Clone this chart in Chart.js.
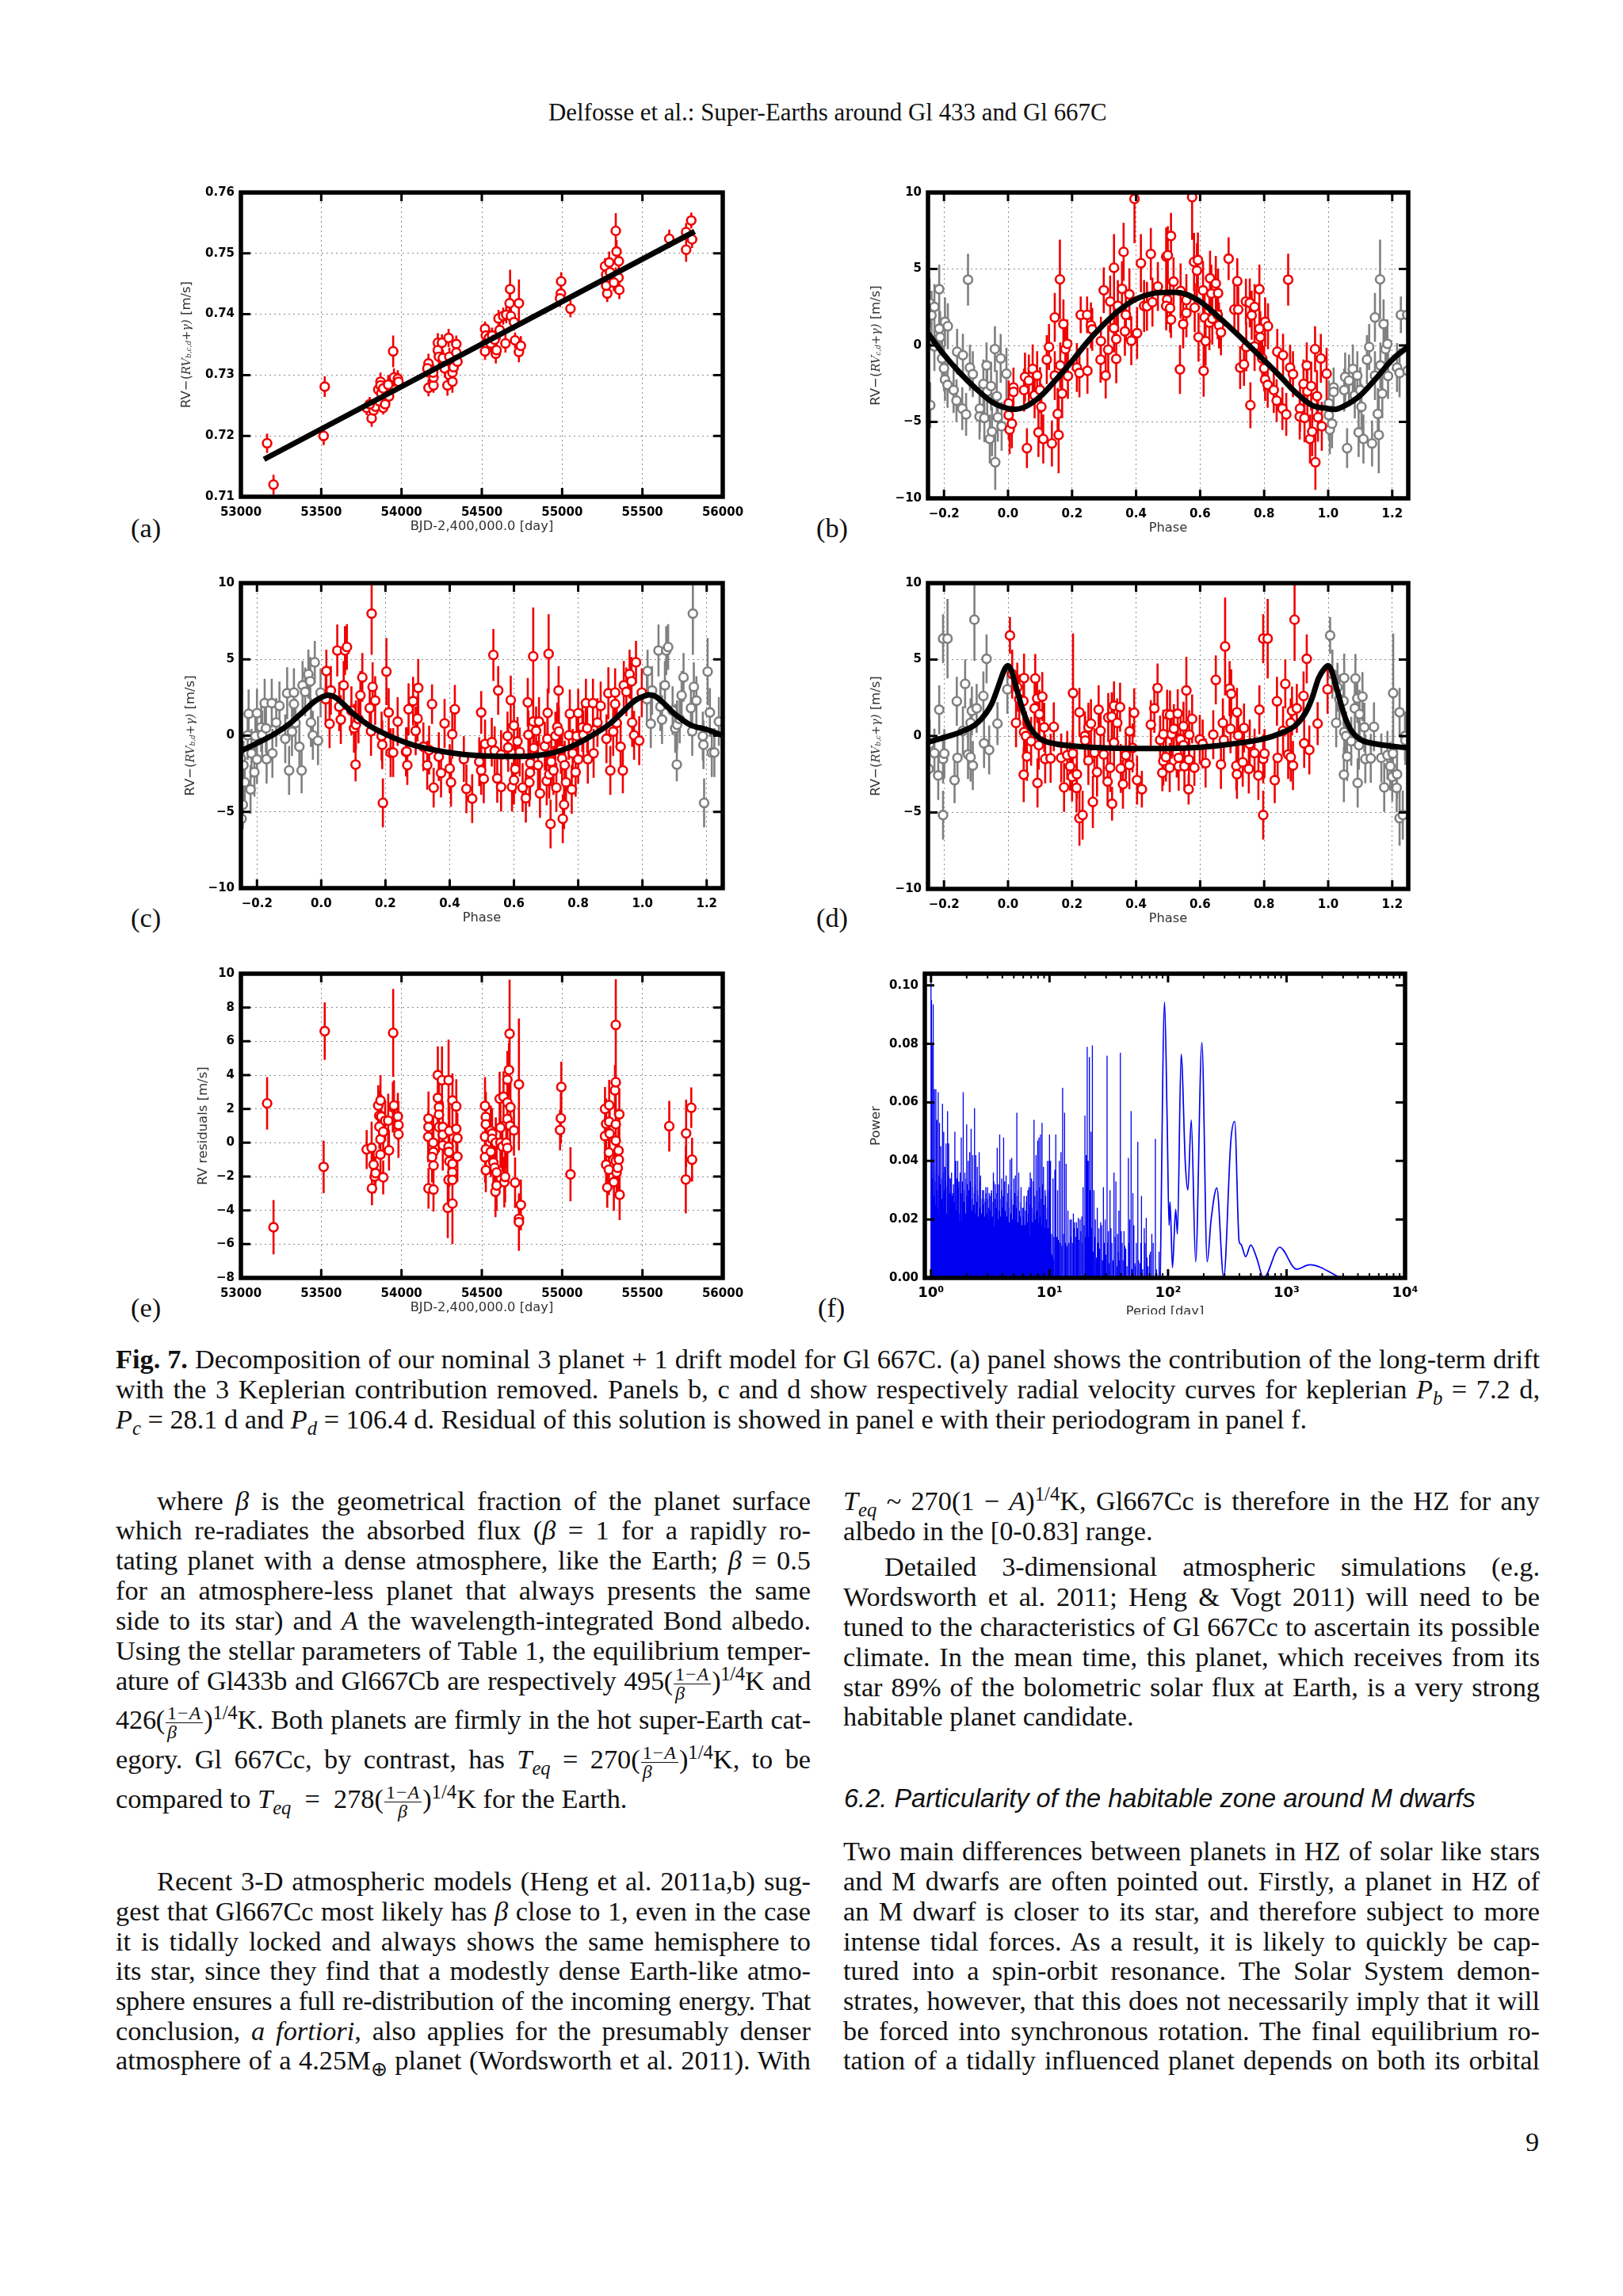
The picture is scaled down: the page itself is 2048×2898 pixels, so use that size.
<!DOCTYPE html>
<html>
<head>
<meta charset="utf-8">
<script src="https://cdn.jsdelivr.net/npm/chart.js@4"></script>
<style>
html, body { margin: 0; padding: 0; background: #fff; }
body { position: relative; width: 2048px; height: 2898px; overflow: hidden; font-family: "Liberation Serif", serif; color: #111; }
canvas { position: absolute; display: block; }
.t { position: absolute; font-size: 34.3px; line-height: 38px; height: 38px; white-space: nowrap; }
.j { text-align: justify; text-align-last: justify; white-space: normal; }
.t sub, .t sup { font-size: 0.72em; line-height: 0; }
.fr { display: inline-block; vertical-align: middle; font-size: 24px; line-height: 23px; text-align: center; margin: 0 1px; letter-spacing: 1px; text-indent: 0; }
.fr span { display: block; padding: 0 2px; }
.fr span:first-child { border-bottom: 1.5px solid #111; }
</style>
</head>
<body>
<canvas id="panelA"></canvas>
<canvas id="panelB"></canvas>
<canvas id="panelC"></canvas>
<canvas id="panelD"></canvas>
<canvas id="panelE"></canvas>
<canvas id="panelF"></canvas>
<div id="page"></div>
<script>
// Panel a: drift
const timeA = [53163,53203,53515,53522,53783,53814,53826,53838,53802,53855,
    53869,53869,53886,53874,53862,53898,53886,53922,53917,53948,
    53953,53977,53981,54168,54168,54161,54199,54199,54197,54226,
    54233,54226,54233,54252,54257,54269,54293,54298,54286,54298,
    54317,54317,54324,54341,54341,54348,54520,54525,54525,54520,
    54544,54556,54564,54580,54587,54592,54611,54604,54633,54647,
    54652,54673,54676,54681,54700,54707,54731,54731,54743,54994,
    54992,54987,55052,55267,55274,55281,55274,55293,55298,55334,
    55339,55334,55353,55351,55356,55322,55667,55772,55772,55804,55809];
const rvA = [.7188,.7120,.7200,.7281,.7246,.7229,.7242,.7248,.7252,.7276,
    .7289,.7283,.7246,.7270,.7257,.7252,.7278,.7265,.7284,.7339,
    .7296,.7294,.7289,.7279,.7319,.7311,.7283,.7296,.7304,.7353,
    .7337,.7341,.7330,.7353,.7328,.7311,.7361,.7330,.7283,.7300,
    .7289,.7304,.7313,.7351,.7337,.7322,.7376,.7365,.7352,.7339,
    .7361,.7352,.7365,.7358,.7335,.7341,.7374,.7393,.7397,.7352,
    .7399,.7418,.7441,.7397,.7387,.7357,.7418,.7338,.7348,.7454,
    .7434,.7426,.7409,.7479,.7465,.7434,.7447,.7485,.7469,.7537,
    .7503,.7460,.7487,.7460,.7440,.7452,.7524,.7535,.7506,.7554,.7523];
const errA = [.0016,.0016,.0015,.0017,.0012,.0014,.0011,.0012,.0012,.0012,
    .0015,.0015,.0011,.0013,.0013,.0012,.0013,.0012,.0016,.0026,
    .0015,.0014,.0014,.0014,.0016,.0015,.0012,.0014,.0014,.0016,
    .0016,.0014,.0014,.0014,.0014,.0015,.0015,.0015,.0017,.0019,
    .0018,.0016,.0014,.0014,.0014,.0014,.0012,.0014,.0014,.0014,
    .0015,.0014,.0013,.0015,.0016,.0014,.0016,.0014,.0014,.0015,
    .0014,.0030,.0032,.0014,.0014,.0013,.0039,.0017,.0016,.0015,
    .0014,.0014,.0014,.0013,.0014,.0014,.0015,.0018,.0016,.0029,
    .0019,.0017,.0016,.0016,.0015,.0014,.0015,.0015,.0020,.0013,.0014];
const driftTime = [53144, 55825];
const driftLine = [.71615, .7536];

// Panel b: phase folded on Pb
const phaseB = [.002,.002,.005,.012,.017,.017,.05,.053,.077,.065,
    .059,.083,.091,.1,.104,.095,.11,.121,.128,.137,
    .146,.146,.155,.158,.162,.163,.169,.173,.179,.185,
    .187,.215,.227,.223,.247,.248,.259,.263,.29,.289,
    .299,.305,.313,.319,.331,.331,.338,.338,.343,.356,
    .361,.365,.368,.379,.385,.395,.403,.415,.425,.434,
    .446,.451,.468,.494,.497,.494,.499,.509,.506,.509,
    .517,.537,.539,.547,.557,.557,.575,.581,.583,.59,
    .593,.595,.609,.611,.614,.617,.629,.631,.635,.638,
    .649,.656,.659,.665,.655,.689,.707,.719,.716,.725,
    .737,.744,.743,.755,.757,.761,.77,.77,.785,.785,
    .788,.794,.803,.812,.8,.803,.811,.83,.839,.841,
    .859,.857,.869,.875,.881,.89,.912,.911,.923,.926,
    .933,.935,.943,.947,.95,.959,.965,.96,.968,.977,
    .98,.995];
const rvB = [-3.79,-4.56,-5.51,-5.12,-2.75,-3.04,-2.92,-2.06,-1.54,-2.3,
    -6.72,-3.27,-1.97,-2.92,-4.01,-5.69,-6.12,-.93,-.1,-6.41,
    1.83,-1.97,-4.48,-5.86,4.32,-1.31,-3.15,1.4,-.24,.1,
    -2,-1.45,2,-1.8,2,-1.66,1.31,1.05,.28,-.93,
    3.61,-1.97,-.28,2.87,5.08,1.14,.41,-.88,2.58,3.7,
    6.12,.92,2,3.34,.31,9.58,.8,5.38,2.58,2.56,
    5.98,2.83,3.85,5.81,3,2.58,5.9,7.16,2.44,1.69,
    4.17,-1.57,3.56,1.4,2.96,2.13,9.7,5.46,2.47,4.89,
    5.58,.54,3.6,-1.66,1.83,.28,1.49,4.39,3.39,1.75,
    4.05,3.42,1.31,.85,2,5.67,2.35,2.35,4.2,-1.45,
    -1.24,-.1,2.87,2.78,-3.91,1.97,2.52,-.07,3.68,1.09,
    .54,-.85,1.54,1.26,-1.5,-2.23,-2.58,-2.92,-3.61,-.41,
    -.64,-4.13,-4.51,4.3,-1.45,-1.88,-4.13,-4.65,-2.52,-4.74,
    -1.31,-3.01,-6.12,-2.66,-5.64,-.24,-3.32,-7.64,-4.7,-.85,
    -5.29,-1.85];
const errB = [1.5,1.6,1.6,1.6,1.3,1.3,1.4,1.6,1.6,1.7,
    1.3,1.5,1.6,1.5,1.5,1.6,1.6,1.6,1.5,1.5,
    1.6,1.6,1.7,2.5,2.6,1.5,1.6,1.6,1.6,1.6,
    1.5,1.6,1.2,1.6,1.2,1.5,1.5,1.4,1.6,1.5,
    1.5,1.5,1.6,1.7,2.2,1.6,1.8,1.6,1.7,1.8,
    1.9,1.6,1.7,1.7,1.6,2.9,1.7,1.9,1.7,1.6,
    1.7,1.6,1.6,1.9,1.6,1.6,1.9,1.5,1.6,1.2,
    1.6,1.6,1.8,1.6,1.7,1.6,2.8,1.9,1.6,1.8,
    1.8,1.6,1.9,1.7,1.7,1.6,1.8,1.8,1.9,1.7,
    1.8,1.6,1.5,1.5,1.6,1.4,1.6,1.5,1.5,1.4,
    1.4,1.6,1.5,1.6,1.5,1.6,1.5,1.6,1.6,1.6,
    1.7,1.6,1.6,1.5,1.5,1.4,1.5,1.5,1.4,1.5,
    1.4,1.4,1.4,1.7,1.5,1.5,1.5,1.5,1.6,1.6,
    1.5,1.5,1.6,1.6,1.6,1.5,1.7,1.8,1.6,1.6,
    1.6,1.7];
const curvePhaseB = [-.25,-.2,-.15,-.1,-.05,0,.02,.05,.1,.15,.2,.25,.3,.35,.4,.45,.5,.52,.55,.6,.65,.7,.75,.8,.85,.9,.95,1,1.02,1.05,1.1,1.15,1.2,1.25];
const curveB = [.8,-.6,-1.8,-2.83,-3.7,-4.13,-4.18,-4.05,-3.35,-2.23,-1.02,.28,1.4,2.35,3.04,3.39,3.47,3.47,3.39,2.87,2,1.05,.05,-.98,-2.02,-3.1,-3.92,-4.13,-4.18,-3.96,-3.27,-2.14,-.93,-.07];

// Panel c: phase folded on Pc
const phaseC = [.016,.014,.03,.026,.05,.056,.061,.074,.08,.07,
    .094,.102,.108,.107,.116,.122,.128,.155,.151,.157,
    .16,.168,.188,.19,.192,.203,.21,.216,.224,.238,
    .264,.266,.268,.272,.286,.294,.3,.302,.318,.33,
    .336,.345,.35,.366,.373,.384,.4,.404,.408,.416,
    .444,.452,.47,.492,.498,.498,.506,.51,.531,.536,
    .54,.548,.551,.56,.56,.58,.582,.59,.594,.6,
    .6,.604,.611,.618,.627,.637,.643,.645,.648,.65,
    .651,.66,.662,.66,.669,.678,.675,.681,.696,.702,
    .704,.705,.708,.714,.71,.716,.723,.729,.732,.735,
    .739,.74,.746,.75,.752,.756,.758,.762,.771,.774,
    .78,.783,.792,.795,.8,.8,.813,.816,.824,.828,
    .83,.846,.848,.86,.87,.888,.894,.9,.909,.915,
    .915,.92,.932,.939,.942,.95,.96,.966,.968,.974,
    .98,.99,.998];
const rvC = [4.23,2.39,2.96,.78,5.58,1.9,1.05,5.58,5.81,3.3,
    1.64,.48,.71,-1.9,1.09,2.64,3.82,.28,1.81,8,
    3.2,2.3,-.03,-.6,-4.41,4.2,1.52,-1.12,-1.11,.92,
    -1.07,-1.04,-1.94,1.73,2.26,.31,1.12,3.13,-.73,-1.94,
    -.95,2.07,-3.41,-1.38,-2.45,.8,-2.16,-3.06,.09,1.73,
    -1.54,-3.49,-4.13,-1.71,1.52,-2.28,-2.83,-.55,-.43,5.29,
    -.99,-2.8,2.96,-1.24,-3.37,-.03,-.78,2.33,-3.37,.66,
    -2.92,-2.2,-.38,-1.07,-3.41,-4.1,2.18,.05,-3.06,-2.42,
    -1.8,5.2,-.81,.92,.31,.92,-1.94,-3.79,-.69,-2.97,
    -.21,1.49,5.36,-5.79,-2.54,-1.71,-2.28,-.03,-3.41,.57,
    2.96,.28,-.9,-1.5,-5.45,-4.53,-1.94,-3.06,.02,1.43,
    -3.53,-1.16,-2.4,-.03,1.47,-1.56,.54,.05,2.13,.48,
    -1.54,2.13,-1.16,.86,1.95,-.21,2.78,-2.28,.26,2.82,
    2.07,.83,-.73,-2.28,3.3,2.87,4.03,3.56,.86,.02,
    4.81,-.33,2.82];
const errC = [1.4,1.5,1.6,1.6,1.7,1.6,1.6,1.6,1.5,1.6,
    1.6,1.6,1.6,1.1,1.6,1.6,1.6,1.6,1.6,2.7,
    1.6,1.6,1.6,1.6,1.6,2.2,1.6,1.6,1.6,1.6,
    1.6,1.6,1.3,1.7,1.6,1.6,1.5,1.9,1.6,1.6,
    1.6,1.3,1.3,1.6,1.6,1.6,1.6,1.6,1.6,1.6,
    1.5,1.6,1.6,1.6,1.4,1.6,1.6,1.6,1.6,1.7,
    1.6,1.6,1.6,1.6,1.6,1.6,1.6,1.6,1.6,1.6,
    1.6,1.6,1.6,1.6,1.6,1.6,1.6,1.6,1.6,1.6,
    1.6,3.2,1.6,1.6,1.6,1.6,1.6,1.6,1.6,1.6,
    1.6,1.6,2.6,1.6,1.6,1.6,1.6,1.6,1.6,1.6,
    1.6,1.6,1.6,1.6,1.6,1.6,1.6,1.6,1.6,1.6,
    1.6,1.6,1.6,1.6,1.6,1.6,1.6,1.6,1.6,1.6,
    1.6,1.6,1.6,1.6,1.6,1.6,1.7,1.6,1.6,1.6,
    1.6,1.6,1.6,1.5,1.6,1.6,1.6,1.6,1.6,1.6,
    1.4,1.6,1.6];
const curvePhaseC = [-.25,-.2,-.15,-.1,-.05,-.02,0,.02,.04,.07,.1,.15,.2,.25,.3,.4,.5,.6,.7,.75,.8,.85,.9,.95,.98,1,1.02,1.04,1.07,1.1,1.15,1.2,1.25];
const curveC = [-1,-.5,.05,.75,1.7,2.25,2.5,2.65,2.55,2.05,1.43,.65,.1,-.35,-.7,-1.12,-1.33,-1.37,-1.22,-.95,-.5,.1,.8,1.8,2.35,2.55,2.68,2.58,2.05,1.43,.7,.4,0];

// Panel d: phase folded on Pd
const phaseD = [.006,.013,.029,.035,.025,.05,.048,.05,.049,.056,
    .059,.072,.083,.085,.091,.092,.096,.098,.107,.113,
    .116,.133,.143,.166,.175,.185,.194,.202,.203,.2,
    .215,.214,.223,.223,.233,.24,.241,.251,.251,.259,
    .265,.27,.278,.283,.289,.299,.311,.313,.319,.324,
    .325,.331,.331,.341,.35,.352,.359,.368,.379,.38,
    .389,.394,.403,.418,.446,.457,.467,.475,.485,.482,
    .485,.493,.497,.505,.506,.511,.518,.527,.53,.533,
    .539,.533,.548,.551,.557,.548,.564,.566,.565,.575,
    .582,.599,.608,.617,.641,.649,.665,.671,.674,.678,
    .692,.697,.695,.715,.713,.715,.719,.733,.737,.752,
    .755,.77,.782,.785,.797,.797,.797,.801,.811,.833,
    .84,.842,.859,.866,.875,.883,.883,.887,.89,.902,
    .895,.923,.925,.933,.941,.967,.998];
const rvD = [6.58,4.05,3.19,2.41,.86,3.79,2.29,.26,-2.53,0,
    -1.34,-.34,1.81,3.76,2.46,-3.07,-.6,1.43,2.58,.57,
    -1.5,-1.46,.6,-1.43,-3.36,-1.26,-1.98,-1.15,2.81,-2.67,
    -2.5,-3.39,1.55,-5.37,-5.17,0,-.29,.57,-1.6,.81,
    -4.31,-1.09,-2.36,1.72,.34,-1.21,-2.98,1.21,-2.07,1.26,
    -4.43,-.43,1.98,.86,1.89,-2.12,-3.15,-1.26,-1.89,.31,
    -.78,1.52,-2.88,-3.48,.74,1.81,3.14,-.26,.12,-2.41,
    -1.64,-1.38,1.43,-2.07,1.38,.12,.48,-1.12,1.46,-1.43,
    -.22,-1.98,.64,-1.98,2.98,-.6,-3.48,.09,-1.55,1.12,
    -2.07,-.22,-.52,-1.77,.09,3.67,-1.86,.86,-.26,5.86,
    3.1,2.76,.47,1.55,-1.95,-2.5,.03,-1.72,.52,-2.15,
    -.52,-1.12,-2.58,1.72,6.37,-1.5,-5.17,-1.15,6.37,-2.89,
    2.27,-1.43,.34,3.41,-1.21,-1.38,.86,1.64,-1.93,1.81,
    7.61,2.62,-.48,5.05,-.91,.81,3.05];
const errD = [1.2,1.6,1.6,1.6,1.6,1.6,1.6,1.6,1.8,1.6,
    1.6,1.6,1.6,1.6,1.6,1.6,1.6,1.6,1.6,1.6,
    1.6,1.6,1.6,1.6,1.6,1.6,1.6,1.6,3.9,1.6,
    1.6,1.6,1.6,1.8,1.6,1.6,1.6,1.6,1.6,1.6,
    1.7,1.6,1.6,1.6,1.6,1.6,1.6,1.6,1.6,1.6,
    1.1,1.6,1.6,1.6,1.6,1.6,1.6,1.6,1.6,1.6,
    1.6,1.6,1.6,1.2,1.6,1.6,1.6,1.6,1.6,1.2,
    1.6,1.6,1.6,1.6,1.6,1.6,1.6,1.6,1.6,1.6,
    1.6,1.6,1.6,1.6,2.2,1.6,1.0,1.6,1.6,1.6,
    1.2,1.6,1.6,1.6,1.6,1.6,1.6,1.6,1.6,3.2,
    1.8,1.6,1.6,1.6,1.6,1.6,1.6,1.6,1.6,1.6,
    1.6,1.6,1.6,1.6,1.6,1.6,1.6,1.6,2.6,1.5,
    1.6,1.6,1.6,1.6,1.6,1.6,1.6,1.6,1.6,1.6,
    2.7,1.6,1.6,1.6,1.6,1.4,1.6];
const curvePhaseD = [-.25,-.2,-.15,-.1,-.07,-.05,-.03,-.01,0,.01,.03,.05,.07,.1,.15,.2,.3,.4,.5,.6,.7,.8,.85,.9,.93,.95,.97,.99,1,1.01,1.03,1.05,1.07,1.1,1.15,1.25];
const curveD = [-.4,-.1,.25,.78,1.46,2.15,3.27,4.39,4.6,4.3,2.84,1.46,.52,-.17,-.52,-.65,-.78,-.81,-.81,-.74,-.52,-.17,.17,.74,1.55,2.5,3.79,4.45,4.6,4.3,2.84,1.38,.43,-.22,-.52,-.78];

// Panel e: residuals
const timeE = [53163,53203,53515,53522,53783,53814,53816,53826,53833,53838,
    53855,53869,53862,53874,53862,53869,53869,53886,53886,53898,
    53917,53922,53948,53946,53953,53977,53981,53981,54168,54168,
    54166,54168,54199,54199,54199,54197,54190,54226,54226,54233,
    54233,54233,54252,54257,54257,54257,54293,54298,54293,54295,
    54298,54293,54288,54317,54317,54317,54317,54317,54341,54341,
    54348,54348,54520,54525,54525,54520,54525,54520,54525,54556,
    54564,54564,54556,54572,54580,54592,54587,54585,54592,54611,
    54616,54616,54628,54635,54640,54645,54659,54659,54659,54652,
    54659,54669,54673,54678,54676,54700,54707,54731,54731,54731,
    54743,54995,54992,54987,55052,55267,55274,55267,55274,55281,
    55293,55293,55296,55291,55291,55322,55329,55334,55334,55334,
    55334,55334,55339,55346,55351,55353,55356,55358,55667,55772,
    55770,55804,55809];
const resE = [2.33,-5,-1.43,6.6,-.4,-.3,-2.7,-1.3,-2,-1.8,
    2.2,2.5,1.6,1.55,.95,.2,-.7,.65,-2.05,1.3,
    1.3,-.45,6.5,2.1,2.2,1.55,1.05,.5,1.43,.93,
    .35,-2.7,-2.77,-1.35,-.55,0,-.85,4,2.65,2.1,
    1.66,.93,3.7,.93,.47,-.15,3.7,.7,-.23,-.55,
    -1.1,-2.2,-3.85,2.5,-1.25,-1.75,-2.2,-3.6,2.15,.82,
    .27,-.82,2.18,1.52,1.09,.36,-.39,-.86,-1.63,.7,
    .54,.23,-.54,-1.17,-1.48,-1.76,0,-2.9,-2.53,2.6,
    .89,0,-.23,2.72,-2.33,-2.02,3.73,2.38,1.4,0,
    -.31,4.3,6.45,2.1,1,.73,-2.36,3.45,-4.5,-4.7,
    -3.68,3.3,1.45,.75,-1.87,2,1.12,.39,-1.3,-2.65,
    2.22,1.24,.54,-.58,-1.6,-2.33,3.1,3.58,6.97,1.09,
    .12,-1.09,-1.76,-1.48,-.47,-1,1.68,-3.08,.98,.55,
    -2.18,2.07,-1];
const errE = [1.55,1.6,1.55,1.7,1.15,1.55,1,1,1,1,
    1.2,1.5,1.5,1.3,1.3,1.3,1.3,1.2,1,1.2,
    1.6,1.2,2.6,1.5,1.5,1.4,1.4,1.4,1.6,1.6,
    1.5,1.2,1.3,1.5,1.5,1.6,1.5,1.7,1.5,1.5,
    1.5,1.5,2,1.5,1.5,1.5,2.4,1.5,1.5,1.5,
    1.5,1.5,1.8,1.6,1.5,1.5,1.5,2.4,1.6,1.5,
    1.5,1.5,1.7,1.5,1.5,1.5,1.5,1.5,1.3,1.5,
    1.5,1.5,1.5,1.5,1.5,1.5,1.5,1.5,1.5,1.6,
    1.5,1.5,1.5,1.5,1.5,1.5,1.7,1.5,1.5,1.5,
    1.5,1.6,3.2,1.5,1.5,1.5,1.5,3.9,1.5,1.7,
    1.5,1.5,1.5,1.2,1.6,1.3,1.5,1.5,1.5,1.2,
    1.5,1.5,1.5,1.5,1.5,1.7,1.5,1.7,2.7,1.5,
    1.5,1.5,1.5,1.5,1.5,1.5,1.5,1.5,1.5,2,
    2,1.2,1.3];

// Panel f: periodogram, tall peaks below 90 days
const stickPeriods = [1,1.01,1.02,1.035,1.05,1.07,1.1,1.12,1.15,1.18,
    1.21,1.25,1.28,1.31,1.34,1.38,1.41,1.45,1.49,1.53,
    1.59,1.62,1.68,1.72,1.8,1.87,1.93,2,2.06,2.12,
    2.18,2.25,2.33,2.39,2.46,2.55,2.62,2.72,2.8,2.9,
    3,3.1,3.22,3.36,3.5,3.62,3.8,3.95,4.1,4.3,
    4.5,4.65,4.8,5,5.15,5.3,5.5,5.75,6,6.2,
    6.4,6.7,6.88,7.05,7.4,7.7,7.95,8.15,8.4,8.65,
    8.9,9.2,9.6,9.9,10,10.2,10.7,11.1,11.3,11.7,
    12.1,12.5,12.9,13.4,13.8,14.3,14.9,15.3,15.9,16.3,
    16.9,17.5,18.1,18.7,19.2,19.9,20.4,20.8,21.2,21.7,
    22.1,22.4,23,23.7,24.4,25.3,26.1,27,28.5,29.5,
    30.6,31.4,32.4,33.6,35,36.3,37.5,38.5,39.6,41,
    42.5,44,46.3,47.5,48.8,50.5,52.5,54,55.6,58,
    59.7,63,65.5,68,70,73,78.2,84];
const stickPower = [.104,.095,.08,.0935,.067,.0645,.0645,.054,.0635,.053,
    .045,.0595,.05,.038,.046,.057,.046,.034,.036,.029,
    .05,.04,.04,.033,.048,.0635,.036,.0525,.04,.043,
    .051,.042,.058,.042,.038,.043,.035,.03,.027,.031,
    .027,.029,.029,.036,.032,.0445,.049,.034,.048,.035,
    .032,.0405,.041,.034,.035,.0565,.036,.031,.024,.018,
    .028,.031,.036,.034,.054,.042,.047,.048,.049,.053,
    .038,.03,.04,.04,.049,.04,.034,.037,.049,.03,
    .04,.043,.065,.0565,.039,.023,.02,.02,.022,.019,
    .019,.0205,.02,.021,.031,.0555,.042,.079,.04,.0755,
    .03,.05,.0795,.03,.02,.024,.017,.019,.031,.02,
    .076,.016,.03,.012,.036,.033,.015,.023,.077,.012,
    .016,.01,.041,.02,.057,.029,.005,.012,.0465,.005,
    .028,.017,.0205,.004,.008,.015,.0475,.009];
// lower peaks of the forest, estimated by eye where they merge
const forestPeriods = [1.005,1.02,1.03,1.045,1.06,1.08,1.09,1.11,1.13,1.14,
    1.16,1.17,1.19,1.2,1.22,1.24,1.26,1.27,1.29,1.31,
    1.33,1.35,1.37,1.39,1.41,1.43,1.45,1.47,1.49,1.51,
    1.53,1.55,1.57,1.6,1.62,1.65,1.67,1.7,1.72,1.75,
    1.77,1.8,1.83,1.85,1.88,1.91,1.94,1.97,2,2.03,
    2.06,2.09,2.12,2.15,2.19,2.22,2.25,2.29,2.32,2.36,
    2.39,2.43,2.47,2.5,2.54,2.58,2.62,2.66,2.7,2.74,
    2.78,2.82,2.87,2.91,2.95,3,3.05,3.09,3.14,3.19,
    3.24,3.29,3.34,3.39,3.44,3.49,3.54,3.6,3.65,3.71,
    3.76,3.82,3.88,3.94,4,4.06,4.12,4.18,4.25,4.31,
    4.38,4.44,4.51,4.58,4.65,4.72,4.79,4.86,4.94,5.01,
    5.09,5.17,5.25,5.33,5.41,5.49,5.57,5.66,5.74,5.83,
    5.92,6.01,6.1,6.19,6.28,6.38,6.48,6.57,6.67,6.77,
    6.88,6.98,7.08,7.19,7.3,7.41,7.52,7.64,7.75,7.87,
    7.99,8.11,8.23,8.35,8.48,8.61,8.74,8.87,9,9.14,
    9.28,9.42,9.56,9.7,9.85,10,
    10.4,10.9,11.5,11.9,12.3,12.7,13.1,13.6,14,14.6,
    15.1,15.6,16.1,16.6,17.2,17.8,18.4,19,19.6,20.1,
    20.6,21,21.4,21.9,22.7,23.3,24,24.8,25.7,26.5,
    27.5,28,29,30,31,32,33,34.3,35.8,37,
    38,39,40.3,41.7,43.2,45,47,49.7,51.5,53.2,
    56.5,59,61,64,66.5,71,75,80];
const forestPower = [.03,.034,.022,.036,.028,.033,.025,.037,.03,.024,
    .035,.028,.032,.022,.034,.027,.036,.024,.03,.026,
    .033,.022,.031,.027,.035,.023,.029,.034,.025,.028,
    .021,.032,.026,.03,.023,.034,.027,.031,.022,.036,
    .025,.029,.033,.023,.03,.026,.034,.022,.028,.032,
    .024,.03,.021,.033,.027,.023,.031,.025,.029,.022,
    .032,.026,.03,.021,.028,.024,.033,.022,.027,.025,
    .03,.021,.026,.029,.022,.031,.024,.02,.028,.023,
    .03,.021,.026,.033,.022,.027,.024,.029,.02,.032,
    .023,.027,.021,.03,.024,.028,.02,.033,.023,.026,
    .021,.029,.024,.019,.03,.022,.027,.02,.025,.023,
    .029,.02,.024,.028,.019,.03,.023,.021,.026,.018,
    .024,.021,.028,.018,.023,.026,.019,.03,.022,.025,
    .02,.031,.024,.019,.033,.022,.028,.02,.03,.023,
    .026,.019,.031,.021,.027,.018,.032,.022,.025,.017,
    .028,.02,.024,.017,.03,.02,
    .015,.014,.014,.013,.012,.011,.015,.012,.011,.012,
    .014,.012,.017,.014,.017,.013,.016,.012,.018,.014,
    .018,.016,.014,.012,.017,.009,.014,.007,.012,.01,
    .018,.006,.012,.008,.012,.005,.017,.006,.014,.004,
    .009,.006,.016,.006,.011,.004,.012,.003,.018,.004,
    .006,.012,.003,.012,.007,.009,.012,.003];
// solid part of the forest at short periods
const densePeriods = [1,1.15,1.4,1.8,2.3,3,4,5,6.5,8,10,11];
const densePower = [.02,.02,.02,.019,.019,.018,.017,.016,.015,.013,.01,.005];
// resolved peaks at long periods
const longPeriods = [86,93.5,98.5,102,104,109,116,120,129,140,147,157,171,193,214,231,258,295,339,365,398,412,452,499,560,640,875,1210,1567,2890];
const longPower = [0,.0943,.0518,.018,.026,.0035,.0235,.015,.0765,.039,.03,.054,.0055,.0805,.0055,.02,.0308,0,.047,.0535,.0125,.0115,.0073,.0113,.0068,0,.0105,.003,.0045,0];

const phaseTicks = [-.2,0,.2,.4,.6,.8,1,1.2];
const timeTicks = [53000,53500,54000,54500,55000,55500,56000];
const rvTicks = [-10,-5,0,5,10];
const driftTicks = [.71,.72,.73,.74,.75,.76];
const residualTicks = [-8,-6,-4,-2,0,2,4,6,8,10];
const powerTicks = [0,.02,.04,.06,.08,.1];
const periodTicks = [1,10,100,1000,10000];
const periodMinorTicks = [1,10,100,1000].flatMap(d => [2,3,4,5,6,7,8,9].map(m => m * d));

const RED = '#f00000';
const GREY = '#808080';
const BLUE = '#0000f0';
const tickFont = { family: '"DejaVu Sans"', size: 15, weight: 'bold' };
const minusText = v => String(v).replace('-', '\u2212');

// vertical bars as one line with gaps, so the scales place them
function errorBarPoints(xs, ys, es) {
    return xs.flatMap((x, i) => [
        { x: x, y: ys[i] - es[i] },
        { x: x, y: ys[i] + es[i] },
        { x: x, y: null }
    ]);
}

function markerDataset(xs, ys, color) {
    return {
        data: xs.map((x, i) => ({ x: x, y: ys[i] })),
        showLine: false,
        pointStyle: 'circle',
        pointRadius: 5.4,
        pointBorderWidth: 2.6,
        pointBorderColor: color,
        pointBackgroundColor: '#fff'
    };
}

function barDataset(xs, ys, es, color) {
    return {
        data: errorBarPoints(xs, ys, es),
        showLine: true,
        spanGaps: false,
        borderColor: color,
        borderWidth: 2.6,
        pointRadius: 0
    };
}

function curveDataset(xs, ys, width) {
    return {
        data: xs.map((x, i) => ({ x: x, y: ys[i] })),
        showLine: true,
        borderColor: '#000',
        borderWidth: width,
        cubicInterpolationMode: 'monotone',
        pointRadius: 0,
        borderCapStyle: 'butt'
    };
}

function stickDataset(periods, power) {
    return {
        data: periods.flatMap((p, i) => [{ x: p, y: 0 }, { x: p, y: power[i] }, { x: p, y: 0 }]),
        showLine: true, borderColor: BLUE, borderWidth: 1.3, pointRadius: 0
    };
}

// the phase plots repeat the last and first quarter of the orbit in grey
function foldedDatasets(curveX, curveY, ph, rv, er) {
    const leftIdx = ph.map((p, i) => i).filter(i => ph[i] >= .75);
    const rightIdx = ph.map((p, i) => i).filter(i => ph[i] <= .25);
    const idx = leftIdx.concat(rightIdx);
    const greyX = leftIdx.map(i => ph[i] - 1).concat(rightIdx.map(i => ph[i] + 1));
    const greyY = idx.map(i => rv[i]);
    const greyE = idx.map(i => er[i]);
    return [
        curveDataset(curveX, curveY, 7),
        markerDataset(ph, rv, RED),
        barDataset(ph, rv, er, RED),
        markerDataset(greyX, greyY, GREY),
        barDataset(greyX, greyY, greyE, GREY)
    ];
}

// matplotlib look: heavy frame with inward ticks on all four sides
const frameTicksPlugin = {
    id: 'frameTicks',
    afterDraw(chart, args, opts) {
        const { ctx, chartArea: a, scales } = chart;
        ctx.save();
        ctx.strokeStyle = '#000';
        ctx.lineWidth = 3;
        ctx.beginPath();
        scales.x.ticks.forEach(t => {
            const px = scales.x.getPixelForValue(t.value);
            ctx.moveTo(px, a.top); ctx.lineTo(px, a.top + 11);
            ctx.moveTo(px, a.bottom); ctx.lineTo(px, a.bottom - 11);
        });
        scales.y.ticks.forEach(t => {
            const py = scales.y.getPixelForValue(t.value);
            ctx.moveTo(a.left, py); ctx.lineTo(a.left + 12, py);
            ctx.moveTo(a.right, py); ctx.lineTo(a.right - 12, py);
        });
        ctx.stroke();
        if (opts.minorX) {
            ctx.lineWidth = 2;
            ctx.beginPath();
            opts.minorX.forEach(v => {
                const px = scales.x.getPixelForValue(v);
                ctx.moveTo(px, a.top); ctx.lineTo(px, a.top + 6);
                ctx.moveTo(px, a.bottom); ctx.lineTo(px, a.bottom - 6);
            });
            ctx.stroke();
        }
        ctx.lineWidth = 5.5;
        ctx.strokeRect(a.left, a.top, a.right - a.left, a.bottom - a.top);
        ctx.restore();
    }
};

// y label with math runs, canvas text has no subscripts of its own
const yLabelPlugin = {
    id: 'yLabel',
    afterDraw(chart, args, opts) {
        const { ctx, chartArea: a } = chart;
        const runs = opts.runs || [];
        ctx.save();
        ctx.fillStyle = '#333';
        ctx.textBaseline = 'middle';
        ctx.translate(a.left - opts.offset, (a.top + a.bottom) / 2);
        ctx.rotate(-Math.PI / 2);
        let total = 0;
        runs.forEach(r => { ctx.font = r.font; total += ctx.measureText(r.text).width; });
        let x = -total / 2;
        runs.forEach(r => {
            ctx.font = r.font;
            ctx.fillText(r.text, x, r.dy || 0);
            x += ctx.measureText(r.text).width;
        });
        ctx.restore();
    }
};

const SANS = '16.5px "DejaVu Sans"';
const MATH = 'italic 14.5px "DejaVu Serif"';
const SUB = 'italic 9px "DejaVu Serif"';
function rvLabelRuns(sub) {
    return [
        { text: 'RV\u2212(', font: SANS },
        { text: 'RV', font: MATH },
        { text: sub, font: SUB, dy: 3 },
        { text: '+\u03b3)', font: MATH },
        { text: ' [m/s]', font: SANS }
    ];
}

const LEFT_PAD = 82, RIGHT_PAD = 42, TOP_PAD = 16, AXIS_H = 46;

function buildPanel(id, box, datasets, cfg) {
    const canvas = document.getElementById(id);
    const w = box.right - box.left + LEFT_PAD + RIGHT_PAD;
    const h = box.bottom - box.top + TOP_PAD + AXIS_H;
    canvas.width = w;
    canvas.height = h;
    canvas.style.left = (box.left - LEFT_PAD) + 'px';
    canvas.style.top = (box.top - TOP_PAD) + 'px';
    canvas.style.width = w + 'px';
    canvas.style.height = h + 'px';
    const grid = { display: cfg.grid !== false, color: '#8c8c8c', lineWidth: 1, drawTicks: false };
    return new Chart(canvas, {
        type: 'scatter',
        data: { datasets: datasets },
        plugins: [frameTicksPlugin, yLabelPlugin],
        options: {
            responsive: false,
            animation: false,
            devicePixelRatio: 1,
            layout: { padding: { top: TOP_PAD, right: RIGHT_PAD, left: 0, bottom: 0 } },
            plugins: {
                legend: { display: false },
                tooltip: { enabled: false },
                frameTicks: { minorX: cfg.minorX },
                yLabel: { runs: cfg.yRuns, offset: cfg.yOffset }
            },
            scales: {
                x: {
                    type: cfg.xType || 'linear',
                    min: cfg.xMin,
                    max: cfg.xMax,
                    grid: grid,
                    border: { display: false, dash: [2, 4] },
                    afterBuildTicks: s => { s.ticks = cfg.xTicks.map(v => ({ value: v })); },
                    afterFit: s => { s.height = AXIS_H; },
                    ticks: {
                        padding: cfg.xTickPad || 11,
                        autoSkip: false,
                        maxRotation: 0,
                        color: '#000',
                        font: cfg.xTickFont || tickFont,
                        callback: cfg.xFormat
                    },
                    title: {
                        display: true,
                        text: cfg.xTitle,
                        color: '#333',
                        font: { family: '"DejaVu Sans"', size: 16.3 },
                        padding: cfg.xTitlePad || { top: 0, bottom: -2 }
                    }
                },
                y: {
                    min: cfg.yMin,
                    max: cfg.yMax,
                    grid: grid,
                    border: { display: false, dash: [2, 4] },
                    afterBuildTicks: s => { s.ticks = cfg.yTicks.map(v => ({ value: v })); },
                    afterFit: s => { s.width = LEFT_PAD; },
                    ticks: {
                        padding: 8,
                        autoSkip: false,
                        color: '#000',
                        font: tickFont,
                        callback: cfg.yFormat
                    }
                }
            }
        }
    });
}

const fixed1 = v => minusText(v.toFixed(1));
const fixed2 = v => v.toFixed(2);
const plain = v => minusText(v);
const powerOfTen = v => '10' + '\u2070\u00b9\u00b2\u00b3\u2074'[Math.round(Math.log10(v))];

buildPanel('panelA', { left: 304, right: 912, top: 242, bottom: 627 }, [
    curveDataset(driftTime, driftLine, 7),
    markerDataset(timeA, rvA, RED),
    barDataset(timeA, rvA, errA, RED)
], {
    xMin: 53000, xMax: 56000, xTicks: timeTicks, xFormat: plain, xTitle: 'BJD-2,400,000.0 [day]',
    yMin: .71, yMax: .76, yTicks: driftTicks, yFormat: fixed2,
    yRuns: rvLabelRuns('b,c,d'), yOffset: 68
});

buildPanel('panelB', { left: 1171, right: 1777, top: 242, bottom: 629 },
    foldedDatasets(curvePhaseB, curveB, phaseB, rvB, errB), {
    xMin: -.25, xMax: 1.25, xTicks: phaseTicks, xFormat: fixed1, xTitle: 'Phase',
    yMin: -10, yMax: 10, yTicks: rvTicks, yFormat: plain,
    yRuns: rvLabelRuns('c,d'), yOffset: 65
});

buildPanel('panelC', { left: 304, right: 912, top: 735, bottom: 1121 },
    foldedDatasets(curvePhaseC, curveC, phaseC, rvC, errC), {
    xMin: -.25, xMax: 1.25, xTicks: phaseTicks, xFormat: fixed1, xTitle: 'Phase',
    yMin: -10, yMax: 10, yTicks: rvTicks, yFormat: plain,
    yRuns: rvLabelRuns('b,d'), yOffset: 63
});

buildPanel('panelD', { left: 1171, right: 1777, top: 735, bottom: 1122 },
    foldedDatasets(curvePhaseD, curveD, phaseD, rvD, errD), {
    xMin: -.25, xMax: 1.25, xTicks: phaseTicks, xFormat: fixed1, xTitle: 'Phase',
    yMin: -10, yMax: 10, yTicks: rvTicks, yFormat: plain,
    yRuns: rvLabelRuns('b,c'), yOffset: 65
});

buildPanel('panelE', { left: 304, right: 912, top: 1228, bottom: 1613 }, [
    markerDataset(timeE, resE, RED),
    barDataset(timeE, resE, errE, RED)
], {
    xMin: 53000, xMax: 56000, xTicks: timeTicks, xFormat: plain, xTitle: 'BJD-2,400,000.0 [day]',
    yMin: -8, yMax: 10, yTicks: residualTicks, yFormat: plain,
    yRuns: [{ text: 'RV residuals [m/s]', font: SANS }], yOffset: 47
});

buildPanel('panelF', { left: 1167, right: 1773, top: 1228, bottom: 1613 }, [
    stickDataset(stickPeriods, stickPower),
    stickDataset(forestPeriods, forestPower),
    {
        data: longPeriods.map((p, i) => ({ x: p, y: longPower[i] })),
        showLine: true, borderColor: BLUE, borderWidth: 1.7, pointRadius: 0, cubicInterpolationMode: 'monotone'
    },
    {
        data: densePeriods.map((p, i) => ({ x: p, y: densePower[i] })),
        showLine: true, borderColor: BLUE, backgroundColor: BLUE, borderWidth: 1, fill: 'origin', pointRadius: 0
    }
], {
    xType: 'logarithmic', xMin: .887, xMax: 10000, xTicks: periodTicks, xFormat: powerOfTen, xTitle: 'Period [day]',
    xTickFont: { family: '"DejaVu Sans"', size: 18, weight: 'bold' }, xTickPad: 9,
    xTitlePad: { top: 0, bottom: -7 },
    yMin: 0, yMax: .104, yTicks: powerTicks, yFormat: fixed2,
    yRuns: [{ text: 'Power', font: SANS }], yOffset: 61,
    grid: false, minorX: periodMinorTicks
});

// Page text around the figure
const frac = '<span class="fr"><span>1\u2212<i>A</i></span><span><i>\u03b2</i></span></span>';
const teq = '<i>T<sub>eq</sub></i>';
const quarter = '<sup>1/4</sup>';
const beta = '<i>\u03b2</i>';
const INDENT = 'text-indent:52px;';

const captionLines = [
    [1715, '<b>Fig. 7.</b> Decomposition of our nominal 3 planet + 1 drift model for Gl 667C. (a) panel shows the contribution of the long-term drift', true],
    [1753, 'with the 3 Keplerian contribution removed. Panels b, c and d show respectively radial velocity curves for keplerian <i>P<sub>b</sub></i> = 7.2 d,', true],
    [1791, '<i>P<sub>c</sub></i> = 28.1 d and <i>P<sub>d</sub></i> = 106.4 d. Residual of this solution is showed in panel e with their periodogram in panel f.', false]
];
const leftLines = [
    [1894, 'where ' + beta + ' is the geometrical fraction of the planet surface', true, INDENT],
    [1931, 'which re-radiates the absorbed flux (' + beta + ' = 1 for a rapidly ro-', true],
    [1969, 'tating planet with a dense atmosphere, like the Earth; ' + beta + ' = 0.5', true],
    [2007, 'for an atmosphere-less planet that always presents the same', true],
    [2045, 'side to its star) and <i>A</i> the wavelength-integrated Bond albedo.', true],
    [2083, 'Using the stellar parameters of Table 1, the equilibrium temper-', true],
    [2121, 'ature of Gl433b and Gl667Cb are respectively 495(' + frac + ')' + quarter + 'K and', true, 'letter-spacing:-.3px;'],
    [2170, '426(' + frac + ')' + quarter + 'K. Both planets are firmly in the hot super-Earth cat-', true, 'letter-spacing:-.2px;'],
    [2220, 'egory. Gl 667Cc, by contrast, has ' + teq + ' = 270(' + frac + ')' + quarter + 'K, to be', true],
    [2270, 'compared to ' + teq + '&ensp;=&ensp;278(' + frac + ')' + quarter + 'K for the Earth.', false],
    [2374, 'Recent 3-D atmospheric models (Heng et al. 2011a,b) sug-', true, INDENT],
    [2412, 'gest that Gl667Cc most likely has ' + beta + ' close to 1, even in the case', true],
    [2450, 'it is tidally locked and always shows the same hemisphere to', true],
    [2487, 'its star, since they find that a modestly dense Earth-like atmo-', true],
    [2525, 'sphere ensures a full re-distribution of the incoming energy. That', true, 'letter-spacing:-.35px;'],
    [2563, 'conclusion, <i>a fortiori</i>, also applies for the presumably denser', true],
    [2600, 'atmosphere of a 4.25M<sub>\u2295</sub> planet (Wordsworth et al. 2011). With', true]
];
const rightLines = [
    [1894, teq + ' ~ 270(1 \u2212 <i>A</i>)' + quarter + 'K, Gl667Cc is therefore in the HZ for any', true],
    [1932, 'albedo in the [0-0.83] range.', false],
    [1977, 'Detailed 3-dimensional atmospheric simulations (e.g.', true, INDENT],
    [2015, 'Wordsworth et al. 2011; Heng &amp; Vogt 2011) will need to be', true],
    [2053, 'tuned to the characteristics of Gl 667Cc to ascertain its possible', true],
    [2091, 'climate. In the mean time, this planet, which receives from its', true],
    [2129, 'star 89% of the bolometric solar flux at Earth, is a very strong', true],
    [2166, 'habitable planet candidate.', false],
    [2336, 'Two main differences between planets in HZ of solar like stars', true],
    [2374, 'and M dwarfs are often pointed out. Firstly, a planet in HZ of', true],
    [2412, 'an M dwarf is closer to its star, and therefore subject to more', true],
    [2450, 'intense tidal forces. As a result, it is likely to quickly be cap-', true],
    [2487, 'tured into a spin-orbit resonance. The Solar System demon-', true],
    [2525, 'strates, however, that this does not necessarily imply that it will', true],
    [2563, 'be forced into synchronous rotation. The final equilibrium ro-', true],
    [2600, 'tation of a tidally influenced planet depends on both its orbital', true]
];
const panelTags = [
    ['(a)', 165, 666], ['(b)', 1030, 666], ['(c)', 165, 1158],
    ['(d)', 1030, 1158], ['(e)', 165, 1650], ['(f)', 1032, 1650]
];

const page = document.getElementById('page');
function addText(html, left, width, yCenter, justified, css) {
    const d = document.createElement('div');
    d.className = justified ? 't j' : 't';
    d.innerHTML = html;
    d.style.left = left + 'px';
    d.style.top = (yCenter - 19) + 'px';
    if (width) d.style.width = width + 'px';
    if (css) d.style.cssText += css;
    page.appendChild(d);
}
captionLines.forEach(l => addText(l[1], 146, 1797, l[0], l[2]));
leftLines.forEach(l => addText(l[1], 146, 877, l[0], l[2], l[3]));
rightLines.forEach(l => addText(l[1], 1064, 879, l[0], l[2], l[3]));
panelTags.forEach(t => addText(t[0], t[1], 0, t[2], false));
addText('Delfosse et al.: Super-Earths around Gl 433 and Gl 667C', 692, 0, 142, false, 'font-size:30.9px;');
addText('6.2. Particularity of the habitable zone around M dwarfs', 1065, 0, 2270, false, 'font-family:"Liberation Sans";font-style:italic;font-size:32.6px;');
addText('9', 1925, 0, 2703, false);
</script>
</body>
</html>
